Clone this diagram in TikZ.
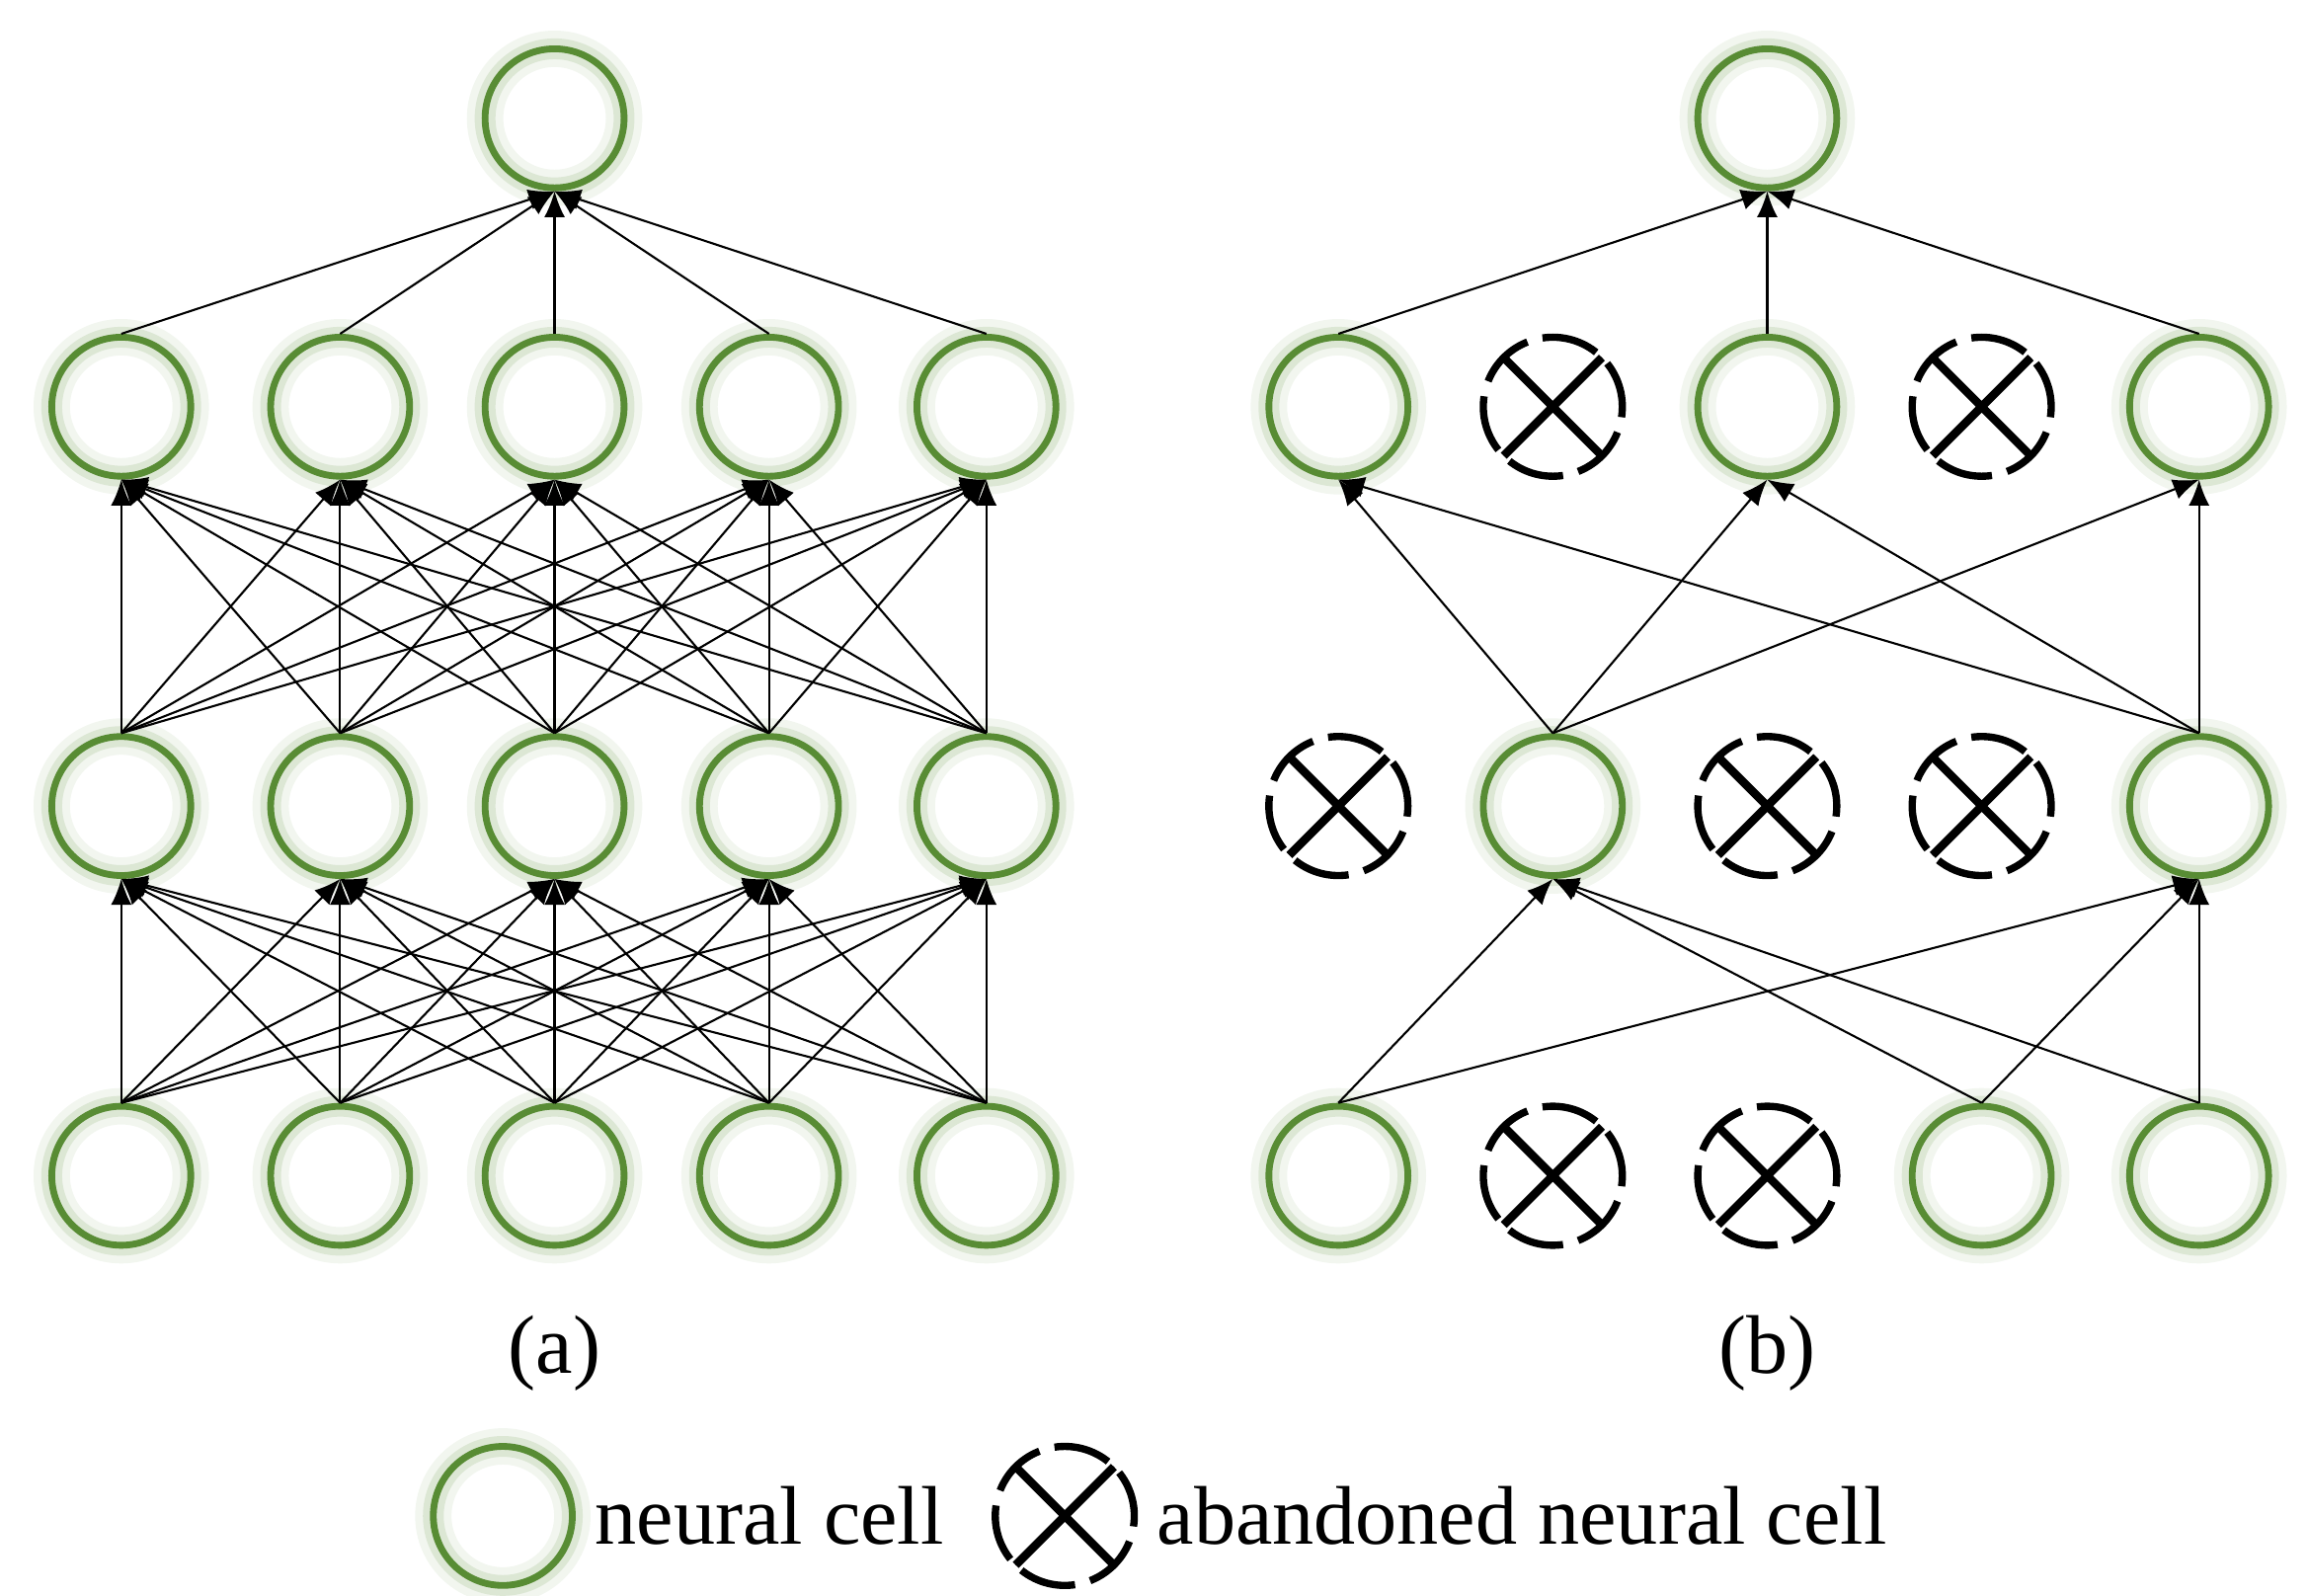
\documentclass[tikz,border=0pt]{standalone}
\usepackage{fontspec}
\setmainfont{Liberation Serif}
\usetikzlibrary{arrows.meta}
\definecolor{cellgreen}{RGB}{88,140,52}
\tikzset{
  cell/.style={circle, draw=cellgreen, line width=1.3pt, minimum size=0.94cm, inner sep=0pt,
    preaction={draw=cellgreen!40, line width=7pt, opacity=.2},
    preaction={draw=cellgreen!50, line width=4pt, opacity=.3}},
  drop/.style={circle, draw, line width=1.4pt, minimum size=0.94cm, inner sep=0pt,
    dash pattern=on 11pt off 3pt, dash phase=2pt,
    path picture={\draw[solid, line width=1.6pt] (path picture bounding box.center) +(-1,1) -- +(1,-1)
      (path picture bounding box.center) +(1,1) -- +(-1,-1);}},
  conn/.style={-{Latex[length=5pt,width=4pt]}, thin},
  lab/.style={font=\fontsize{16}{19}\selectfont}
}
\begin{document}
\begin{tikzpicture}
\useasboundingbox (0,0) rectangle (15.6,-10.79);
% (a) full network
\foreach \i/\x in {1/0.82,2/2.30,3/3.75,4/5.20,5/6.67} {
  \node[cell] (a1\i) at (\x,-2.75) {};
  \node[cell] (a2\i) at (\x,-5.45) {};
  \node[cell] (a3\i) at (\x,-7.95) {};
}
\node[cell] (a0) at (3.75,-0.80) {};
\foreach \i in {1,...,5} {
  \draw[conn] (a1\i.north) -- (a0.south);
  \foreach \j in {1,...,5} {
    \draw[conn] (a2\i.north) -- (a1\j.south);
    \draw[conn] (a3\i.north) -- (a2\j.south);
  }
}
\node[lab] (la) at (3.75,-9.15) {(a)};
% (b) dropout network
\node[cell] (b0) at (11.95,-0.80) {};
\node[cell] (b11) at (9.05,-2.75) {};
\node[drop] (b12) at (10.50,-2.75) {};
\node[cell] (b13) at (11.95,-2.75) {};
\node[drop] (b14) at (13.40,-2.75) {};
\node[cell] (b15) at (14.87,-2.75) {};
\node[drop] (b21) at (9.05,-5.45) {};
\node[cell] (b22) at (10.50,-5.45) {};
\node[drop] (b23) at (11.95,-5.45) {};
\node[drop] (b24) at (13.40,-5.45) {};
\node[cell] (b25) at (14.87,-5.45) {};
\node[cell] (b31) at (9.05,-7.95) {};
\node[drop] (b32) at (10.50,-7.95) {};
\node[drop] (b33) at (11.95,-7.95) {};
\node[cell] (b34) at (13.40,-7.95) {};
\node[cell] (b35) at (14.87,-7.95) {};
\foreach \i in {1,3,5} {
  \draw[conn] (b1\i.north) -- (b0.south);
  \draw[conn] (b22.north) -- (b1\i.south);
  \draw[conn] (b25.north) -- (b1\i.south);
}
\foreach \i in {1,4,5} {
  \draw[conn] (b3\i.north) -- (b22.south);
  \draw[conn] (b3\i.north) -- (b25.south);
}
\node[lab] (lb) at (11.95,-9.15) {(b)};
% legend
\node[cell] (k1) at (3.40,-10.25) {};
\node[lab, anchor=west] (t1) at (3.90,-10.25) {neural cell};
\node[drop] (k2) at (7.20,-10.25) {};
\node[lab, anchor=west] (t2) at (7.70,-10.25) {abandoned neural cell};
\end{tikzpicture}
\end{document}
